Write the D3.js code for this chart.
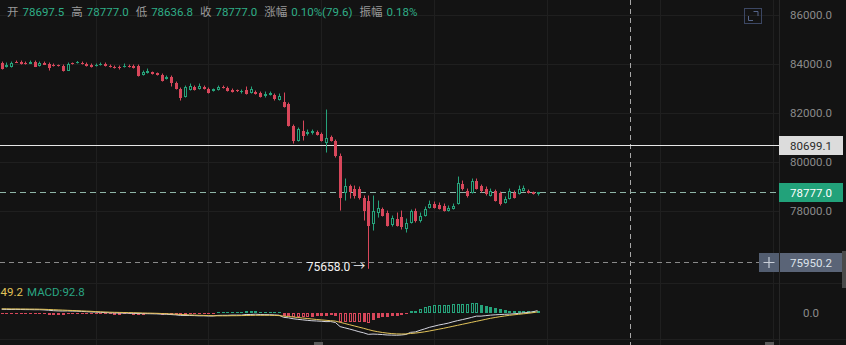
<!DOCTYPE html>
<html>
<head>
<meta charset="utf-8">
<script src="https://cdn.jsdelivr.net/npm/d3@7"></script>
<style>
  html, body { margin: 0; padding: 0; background: #131313; overflow: hidden; }
  svg { display: block; font-family: Roboto, "Noto Sans CJK SC", sans-serif; }
</style>
</head>
<body>
<svg id="chart" width="846" height="345"></svg>
<script>
// candle data (BTC)
const opens = [
  84053, 83890, 83890, 84093, 84093, 84053, 84012, 84093, 83931, 84053,
  84012, 83971, 83951, 83931, 83727, 84033, 84033, 84053, 84012, 83971,
  83931, 83971, 84012, 83931, 83890, 83890, 83890, 83931, 83931, 83931,
  83564, 83646, 83666, 83625, 83564, 83401, 83483, 83239, 82995, 82669,
  82954, 83076, 82995, 83076, 82995, 82913, 82954, 83076, 83035, 82954,
  82933, 82852, 82954, 82832, 82872, 82832, 82710, 82750, 82750, 82547,
  82465, 82384, 81489, 80878, 81285, 81163, 81204, 81244, 81163, 80797,
  81041, 80878, 80268, 78762, 79047, 78924, 78924, 78558, 78436, 77500,
  77948, 78110, 77948, 77459, 77703, 77785, 77296, 77541, 78029, 77622,
  77826, 78151, 78314, 78273, 78233, 78029, 78110, 78314, 79128, 78843,
  78762, 79250, 79047, 78924, 78640, 78843, 78762, 78355, 78518, 78762,
  78721, 78843, 78843, 78782, 78697.5
];
const highs = [
  84093, 84053, 84093, 84134, 84134, 84093, 84134, 84134, 84093, 84093,
  84053, 84012, 83971, 83971, 84053, 84053, 84114, 84093, 84053, 84012,
  84012, 84053, 84053, 83971, 83931, 83931, 84012, 83971, 83971, 83971,
  83727, 83808, 83686, 83646, 83605, 83524, 83524, 83279, 83035, 83117,
  83198, 83117, 83198, 83117, 83035, 82995, 83117, 83117, 83076, 82995,
  82954, 82954, 83076, 83076, 82913, 82872, 82872, 82872, 82791, 82791,
  82832, 82425, 81529, 81407, 81692, 81326, 81326, 81285, 81204, 82140,
  81082, 80919, 80349, 79332, 79087, 79047, 79006, 78640, 78640, 78640,
  78436, 78151, 78029, 77826, 77948, 78029, 77703, 78070, 78110, 77948,
  78192, 78436, 78395, 78355, 78314, 78233, 78314, 79413, 79250, 78924,
  79332, 79332, 79087, 79006, 78924, 78884, 78802, 78599, 78924, 78843,
  79047, 79047, 78884, 78802, 78777
];
const lows = [
  83768, 83849, 83849, 84033, 83971, 83971, 83992, 83869, 83890, 83951,
  83727, 83890, 83890, 83686, 83707, 83971, 84012, 83971, 83890, 83849,
  83890, 83931, 83890, 83849, 83808, 83768, 83849, 83849, 83808, 83483,
  83524, 83605, 83564, 83524, 83279, 83361, 83076, 82954, 82506, 82628,
  82913, 82913, 82954, 82954, 82791, 82872, 82913, 82995, 82872, 82832,
  82852, 82791, 82750, 82791, 82750, 82628, 82628, 82710, 82506, 82506,
  82221, 81448, 80756, 80837, 80878, 81082, 81122, 81082, 80837, 80390,
  80837, 80187, 78029, 78436, 78518, 78518, 78477, 77622, 75658, 77215,
  77744, 77785, 77378, 77378, 77378, 77256, 77134, 77500, 77541, 77541,
  77785, 78110, 78110, 78070, 77988, 77988, 78070, 78273, 78843, 78558,
  78721, 78884, 78762, 78640, 78599, 78395, 78233, 78314, 78477, 78518,
  78680, 78802, 78721, 78680, 78636.8
];
const closes = [
  83808, 83971, 84053, 84053, 84012, 83992, 84093, 83890, 84053, 83971,
  83849, 83931, 83910, 83727, 84012, 83992, 84073, 84012, 83931, 83890,
  83971, 84012, 83931, 83869, 83849, 83849, 83931, 83869, 83849, 83524,
  83686, 83707, 83605, 83564, 83320, 83483, 83239, 82995, 82628, 83076,
  83117, 82954, 83117, 82995, 82832, 82974, 83076, 83015, 82913, 82872,
  82893, 82893, 82791, 82995, 82791, 82669, 82771, 82811, 82587, 82710,
  82262, 81489, 80878, 81366, 81082, 81244, 81265, 81122, 80878, 81000,
  80878, 80268, 78558, 79047, 78802, 78640, 78558, 78029, 77419, 78029,
  78151, 77826, 77419, 77744, 77419, 77378, 77541, 78029, 77622, 77826,
  78110, 78314, 78151, 78110, 78029, 78151, 78233, 79169, 78924, 78640,
  79250, 78924, 78843, 78721, 78843, 78436, 78314, 78518, 78843, 78558,
  78924, 78945, 78762, 78721, 78777
];

// MACD pane
const difValues = [
  144, 140, 136, 140, 137, 133, 133, 129, 130, 122,
  110, 94, 86, 82, 86, 79, 76, 68, 57, 50,
  43, 36, 25, 18, 12, 8, 7, 3, -2, -9,
  -12, -14, -17, -21, -30, -35, -45, -56, -75, -77,
  -79, -83, -90, -90, -97, -97, -75, -72, -72, -64,
  -64, -65, -43, -43, -32, -45, -48, -50, -58, -68,
  -146, -163, -196, -217, -235, -253, -268, -277, -286, -300,
  -298, -331, -480, -523, -566, -612, -662, -702, -758, -747,
  -755, -766, -781, -785, -790, -781, -763, -685, -671, -613,
  -561, -505, -464, -422, -390, -354, -306, -264, -228, -189,
  -147, -102, -102, -84, -66, -55, -44, -37, -30, -18,
  -3, 14, 33, 54, 95.6
];
const deaValues = [
  162, 162, 158, 158, 155, 155, 151, 151, 148, 144,
  137, 130, 122, 115, 108, 101, 94, 86, 79, 72,
  61, 54, 47, 40, 36, 32, 29, 25, 22, 18,
  11, 7, 4, 0, -7, -14, -22, -29, -43, -50,
  -58, -65, -72, -76, -83, -86, -90, -90, -90, -86,
  -86, -83, -79, -76, -72, -72, -72, -72, -76, -83,
  -101, -115, -133, -151, -169, -187, -205, -223, -238, -252,
  -266, -281, -324, -367, -410, -454, -497, -540, -587, -630,
  -662, -691, -713, -731, -742, -745, -742, -727, -713, -691,
  -666, -637, -605, -572, -540, -504, -468, -432, -396, -360,
  -324, -288, -252, -216, -180, -151, -122, -97, -72, -54,
  -36, -18, 0, 22, 49.2
];
const macdValues = [
  -36, -43, -43, -36, -36, -43, -36, -43, -36, -43,
  -54, -72, -72, -65, -43, -43, -36, -36, -43, -43,
  -36, -36, -43, -43, -47, -47, -43, -43, -47, -54,
  -47, -43, -43, -43, -47, -43, -47, -54, -65, -54,
  -43, -36, -36, -29, -29, -22, 29, 36, 36, 43,
  43, 36, 72, 65, 79, 54, 47, 43, 36, 29,
  -90, -97, -126, -133, -133, -133, -126, -108, -97, -97,
  -65, -101, -313, -313, -313, -317, -331, -324, -342, -234,
  -187, -151, -137, -108, -97, -72, -43, 83, 83, 155,
  209, 263, 281, 299, 299, 299, 324, 335, 335, 342,
  353, 371, 299, 263, 227, 191, 155, 119, 83, 72,
  65, 65, 65, 65, 92.8
];

const priceTicks = [86000, 84000, 82000, 80000, 78000];
const macdTicks = [0];
const gridIndex = [20, 44, 68, 92, 116, 140, 164];
const crossIndex = 133.7;

const headerLabels = ['开', '高', '低', '收', '涨幅', '振幅'];
const headerValues = ['78697.5', '78777.0', '78636.8', '78777.0', '0.10%(79.6)', '0.18%'];

const lastPrice = 78777.0;
const refPrice = 80699.1;
const alertPrice = 75950.2;
const minIndex = 78;
const minPrice = 75658.0;
const deaLast = 49.2;
const macdLast = 92.8;

const W = 846, H = 345, plotRight = 779;
const bg = '#131313', upColor = '#26a37b', downColor = '#d8475b';
const crisp = v => Math.round(v) + 0.5;

const svg = d3.select('#chart');
svg.append('rect').attr('width', W).attr('height', H).attr('fill', bg);

const x = d3.scaleLinear().domain([0, closes.length - 1]).range([1.7, 537.5]);
const y = d3.scaleLinear().domain([76000, 86000]).range([260.4, 14.7]);
const ym = d3.scaleLinear().domain([-936, 936]).range([339.3, 287.3]);

// grid
const grid = svg.append('g').attr('stroke', '#1f1f1f');
grid.selectAll('line.hg').data(priceTicks).join('line').attr('class', 'hg')
  .attr('x1', 0).attr('x2', plotRight)
  .attr('y1', d => crisp(y(d))).attr('y2', d => crisp(y(d)));
grid.selectAll('line.vg').data(gridIndex).join('line').attr('class', 'vg')
  .attr('x1', d => crisp(x(d))).attr('x2', d => crisp(x(d)))
  .attr('y1', 0).attr('y2', H);
grid.selectAll('line.pane').data([283, 339]).join('line').attr('class', 'pane')
  .attr('x1', 0).attr('x2', W).attr('y1', d => d + 0.5).attr('y2', d => d + 0.5);
grid.append('line').attr('x1', plotRight + 0.5).attr('x2', plotRight + 0.5)
  .attr('y1', 0).attr('y2', H).attr('stroke', '#262626');

// crosshair
svg.append('line')
  .attr('x1', crisp(x(crossIndex))).attr('x2', crisp(x(crossIndex)))
  .attr('y1', 0).attr('y2', H)
  .attr('stroke', '#a8a8a8').attr('stroke-dasharray', '5,4');

// price lines
svg.append('line').attr('x1', 0).attr('x2', plotRight)
  .attr('y1', crisp(y(refPrice))).attr('y2', crisp(y(refPrice)))
  .attr('stroke', '#e6e6e6');
svg.append('line').attr('x1', 0).attr('x2', plotRight)
  .attr('y1', crisp(y(lastPrice))).attr('y2', crisp(y(lastPrice)))
  .attr('stroke', '#8fb5a8').attr('stroke-dasharray', '6,4');
svg.append('line').attr('x1', 0).attr('x2', 759)
  .attr('y1', crisp(y(alertPrice))).attr('y2', crisp(y(alertPrice)))
  .attr('stroke', '#8a8a8a').attr('stroke-dasharray', '5,4');

// candles
const bars = d3.range(closes.length).map(i => ({ i, o: opens[i], h: highs[i], l: lows[i], c: closes[i] }));
const cg = svg.append('g');
cg.selectAll('line').data(bars).join('line')
  .attr('x1', d => crisp(x(d.i))).attr('x2', d => crisp(x(d.i)))
  .attr('y1', d => y(d.h)).attr('y2', d => y(d.l))
  .attr('stroke', d => d.c >= d.o ? upColor : downColor);
cg.selectAll('rect').data(bars).join('rect')
  .each(function (d) {
    const rising = d.c >= d.o;
    const top = Math.round(y(Math.max(d.o, d.c)));
    const bot = Math.max(top + 1, Math.round(y(Math.min(d.o, d.c))));
    const left = Math.round(x(d.i)) - 1;
    const r = d3.select(this);
    if (rising && bot - top > 2) {
      r.attr('x', left + 0.5).attr('y', top + 0.5).attr('width', 2).attr('height', bot - top - 1)
        .attr('fill', bg).attr('stroke', upColor);
    } else {
      r.attr('x', left).attr('y', top).attr('width', 3).attr('height', bot - top)
        .attr('fill', rising ? upColor : downColor);
    }
  });

// MACD histogram
const hist = macdValues.map((v, i) => ({ i, v, prev: i ? macdValues[i - 1] : 0 }));
svg.append('g').selectAll('rect').data(hist).join('rect')
  .each(function (d) {
    const top = Math.round(ym(Math.max(d.v, 0)));
    const bot = Math.max(top + 1, Math.round(ym(Math.min(d.v, 0))));
    const left = Math.round(x(d.i)) - 1;
    const color = d.v >= 0 ? upColor : downColor;
    const r = d3.select(this);
    if (Math.abs(d.v) >= Math.abs(d.prev) && bot - top > 3) {
      r.attr('x', left + 0.5).attr('y', top + 0.5).attr('width', 2).attr('height', bot - top - 1)
        .attr('fill', bg).attr('stroke', color);
    } else {
      r.attr('x', left).attr('y', top).attr('width', 3).attr('height', bot - top).attr('fill', color);
    }
  });

const mline = d3.line().x((d, i) => x(i)).y(d => ym(d));
svg.append('path').datum(difValues).attr('d', mline)
  .attr('fill', 'none').attr('stroke', '#d4d4de').attr('stroke-width', 1);
svg.append('path').datum(deaValues).attr('d', mline)
  .attr('fill', 'none').attr('stroke', '#e2c35a').attr('stroke-width', 1);

// right axes
const styleAxis = g => {
  g.select('.domain').remove();
  g.attr('font-family', null).attr('font-size', null);
  g.selectAll('text').attr('x', 32).attr('text-anchor', 'middle')
    .attr('fill', '#8b8b8b').style('font-size', '11.5px');
};
svg.append('g').attr('transform', `translate(${plotRight},0)`)
  .call(d3.axisRight(y).tickValues(priceTicks).tickSize(0).tickFormat(d3.format('.1f')))
  .call(styleAxis);
svg.append('g').attr('transform', `translate(${plotRight},0)`)
  .call(d3.axisRight(ym).tickValues(macdTicks).tickSize(0).tickFormat(d3.format('.1f')))
  .call(styleAxis);

// price tags
const tag = (v, fill, color, x0, w) => {
  const cy = Math.round(y(v));
  svg.append('rect').attr('x', x0).attr('y', cy - 9).attr('width', w).attr('height', 19).attr('fill', fill);
  svg.append('text').attr('x', 811).attr('y', cy + 1).attr('dy', '0.35em')
    .attr('text-anchor', 'middle').attr('fill', color).style('font-size', '11.5px')
    .text(d3.format('.1f')(v));
};
tag(refPrice, '#dcdcdc', '#2b2b2b', 779, 64);
tag(lastPrice, '#22a27a', '#ffffff', 779, 64);
tag(alertPrice, '#5a6477', '#dde2ea', 780, 62);

// plus button beside the alert tag
const ay = Math.round(y(alertPrice));
svg.append('rect').attr('x', 759).attr('y', ay - 9).attr('width', 20).attr('height', 19).attr('fill', '#525d70');
svg.append('path').attr('d', `M763.5,${ay + 0.5}h11M769,${ay - 5}v11`).attr('stroke', '#c9cfd9').attr('stroke-width', 1.2);
svg.append('rect').attr('x', 842).attr('y', ay - 11).attr('width', 4).attr('height', 37).attr('fill', '#4a4a4a');

// lowest price marker
svg.append('text').attr('x', x(minIndex) - 3).attr('y', y(minPrice) - 2).attr('dy', '0.35em')
  .attr('text-anchor', 'end').attr('fill', '#f2f2f2').style('font-size', '12px')
  .text(d3.format('.1f')(minPrice) + ' →');

// header
const header = svg.append('text').attr('x', 7).attr('y', 16).style('font-size', '11.5px');
headerLabels.forEach((lab, k) => {
  header.append('tspan').attr('dx', k ? 7 : 0).attr('fill', '#9a9a9a').text(lab);
  header.append('tspan').attr('dx', 4).attr('fill', '#2fae87').text(headerValues[k]);
});

// MACD legend (only the DEA value fits at the left edge)
svg.append('text').attr('x', 0.5).attr('y', 296)
  .attr('fill', '#e2c35a').style('font-size', '11.5px').text(deaLast.toFixed(1));
svg.append('text').attr('x', 27).attr('y', 296)
  .attr('fill', '#2aa582').style('font-size', '11.5px').text('MACD:' + macdLast.toFixed(1));

// expand icon
const icon = svg.append('g').attr('stroke', '#3c4763').attr('fill', 'none');
icon.append('rect').attr('x', 744.5).attr('y', 8.5).attr('width', 17).attr('height', 15);
icon.append('path').attr('d', 'M748.5,16v4.5h4.5M753.5,11.5h4.5v4.5').attr('stroke', '#56658a');

// small scroll marks at bottom
svg.selectAll('rect.mark').data([314, 765]).join('rect').attr('class', 'mark')
  .attr('x', d => d).attr('y', 342).attr('width', 9).attr('height', 3).attr('fill', '#5a5a5a');
</script>
</body>
</html>
